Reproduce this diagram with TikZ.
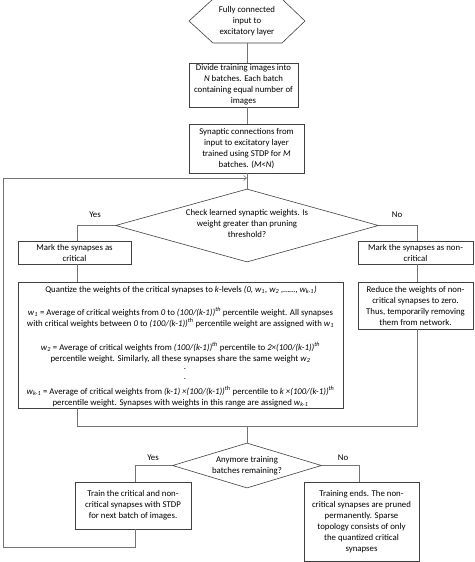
\documentclass[tikz,border=0pt]{standalone}
\usepackage{fontspec}
\setmainfont{Carlito}
\usetikzlibrary{shapes.geometric,arrows.meta}
\newcommand{\wv}[1]{\textit{w}\textsubscript{\textit{#1}}}
\newcommand{\thp}{\textsuperscript{\textit{th}}}
\begin{document}
\begin{tikzpicture}[x=1pt,y=-1pt,
  box/.style={draw=black!75, line width=0.6pt, inner sep=0pt},
  txt/.style={align=center, font=\fontsize{8.8}{11}\selectfont, inner sep=0pt},
  con/.style={draw=black!55, line width=0.6pt},
  lab/.style={font=\fontsize{8.8}{11}\selectfont, inner sep=0pt}]
\useasboundingbox (0,0) rectangle (474,562);
% hexagon
\draw[box] (213,-1) -- (282,-1) -- (305,21) -- (282,43) -- (213,43) -- (189,21) -- cycle;
\node[txt] (hex) at (247,21.5) {Fully connected\\input to\\excitatory layer};
\coordinate (hexb) at (247,43);
% boxes
\node[box, txt, minimum width=109pt, minimum height=44pt] (b2) at (243.5,85) {Divide training images into\\\textit{N} batches. Each batch\\containing equal number of\\images};
\node[box, txt, minimum width=115pt, minimum height=49pt] (b3) at (246.5,148.5) {Synaptic connections from\\input to excitatory layer\\trained using STDP for \textit{M}\\batches. (\textit{M}<\textit{N})};
\coordinate (j1) at (247,178);
\node[box, diamond, minimum width=263pt, minimum height=73pt] (d1) at (247,225.5) {};
\node[txt] (d1t) at (247,223.5) {Check learned synaptic weights. Is\\weight greater than pruning\\threshold?};
\node[lab] (yes1) at (95,215) {Yes};
\node[lab] (no1) at (397,215) {No};
\node[box, txt, minimum width=113pt, minimum height=23pt] (m1) at (74.5,252.5) {Mark the synapses as\\critical};
\node[box, txt, minimum width=115pt, minimum height=23pt] (m2) at (415.5,252.5) {Mark the synapses as non-\\critical};
% big box
\node[box, minimum width=325pt, minimum height=126pt] (q) at (180.5,345) {};
\node[txt] (q1) at (181,290) {Quantize the weights of the critical synapses to \textit{k}-levels \textit{(0, w\textsubscript{1}, w\textsubscript{2} ,……, w\textsubscript{k-1})}};
\node[txt] (q2) at (180.5,318) {\wv{1} = Average of critical weights from \textit{0} to \textit{(100/(k-1))}\thp{} percentile weight. All synapses\\with critical weights between \textit{0} to \textit{(100/(k-1))}\thp{} percentile weight are assigned with \wv{1}};
\node[txt] (q3) at (180.5,353) {\wv{2} = Average of critical weights from \textit{(100/(k-1))}\thp{} percentile to \textit{2×(100/(k-1))}\thp\\percentile weight. Similarly, all these synapses share the same weight \wv{2}};
\node[txt] (dot1) at (185,369) {.};
\node[txt] (dot2) at (185,379) {.};
\node[txt] (q4) at (180.5,397) {\wv{k-1} = Average of critical weights from \textit{(k-1) ×(100/(k-1))}\thp{} percentile to \textit{k ×(100/(k-1))}\thp\\percentile weight. Synapses with weights in this range are assigned \wv{k-1}};
\node[box, txt, minimum width=115pt, minimum height=47pt] (r) at (415.5,305.5) {Reduce the weights of non-\\critical synapses to zero.\\Thus, temporarily removing\\them from network.};
% second decision
\node[box, diamond, minimum width=149pt, minimum height=45pt] (d2) at (247,465.5) {};
\node[txt] (d2t) at (247,466) {Anymore training\\batches remaining?};
\node[lab] (yes2) at (153,458) {Yes};
\node[lab] (no2) at (343,458) {No};
\node[box, txt, minimum width=116pt, minimum height=47pt] (t) at (133,505.5) {Train the critical and non-\\critical synapses with STDP\\for next batch of images.};
\node[box, txt, minimum width=115pt, minimum height=79pt] (e) at (361.5,521.5) {Training ends. The non-\\critical synapses are pruned\\permanently. Sparse\\topology consists of only\\the quantized critical\\synapses};
% coordinates
\coordinate (ly) at (77,225.5);
\coordinate (ry) at (417,225.5);
\coordinate (jl) at (77,426);
\coordinate (jr) at (417,426);
\coordinate (jm) at (247,426);
\coordinate (ty) at (135,465.5);
\coordinate (rn) at (359,465.5);
\coordinate (f1) at (135,547);
\coordinate (f2) at (3,547);
\coordinate (f3) at (3,178);
% connectors
\draw[con] (hexb) -- (hexb |- b2.north);
\draw[con] (b2.south -| hexb) -- (b3.north -| hexb);
\draw[con] (b3.south -| j1) -- (d1.north);
\draw[con] (d1.west) -- (ly) -- (ly |- m1.north);
\draw[con] (m1.south -| ly) -- (q.north -| ly);
\draw[con] (d1.east) -- (ry) -- (ry |- m2.north);
\draw[con] (m2.south -| ry) -- (r.north -| ry);
\draw[con] (q.south -| jl) -- (jl) -- (jr) -- (r.south -| jr);
\draw[con] (jm) -- (d2.north);
\draw[con] (d2.west) -- (ty) -- (ty |- t.north);
\draw[con] (d2.east) -- (rn) -- (rn |- e.north);
\draw[con, -{Straight Barb[length=3pt,width=5pt]}] (t.south -| ty) -- (f1) -- (f2) -- (f3) -- (j1);
\end{tikzpicture}
\end{document}
